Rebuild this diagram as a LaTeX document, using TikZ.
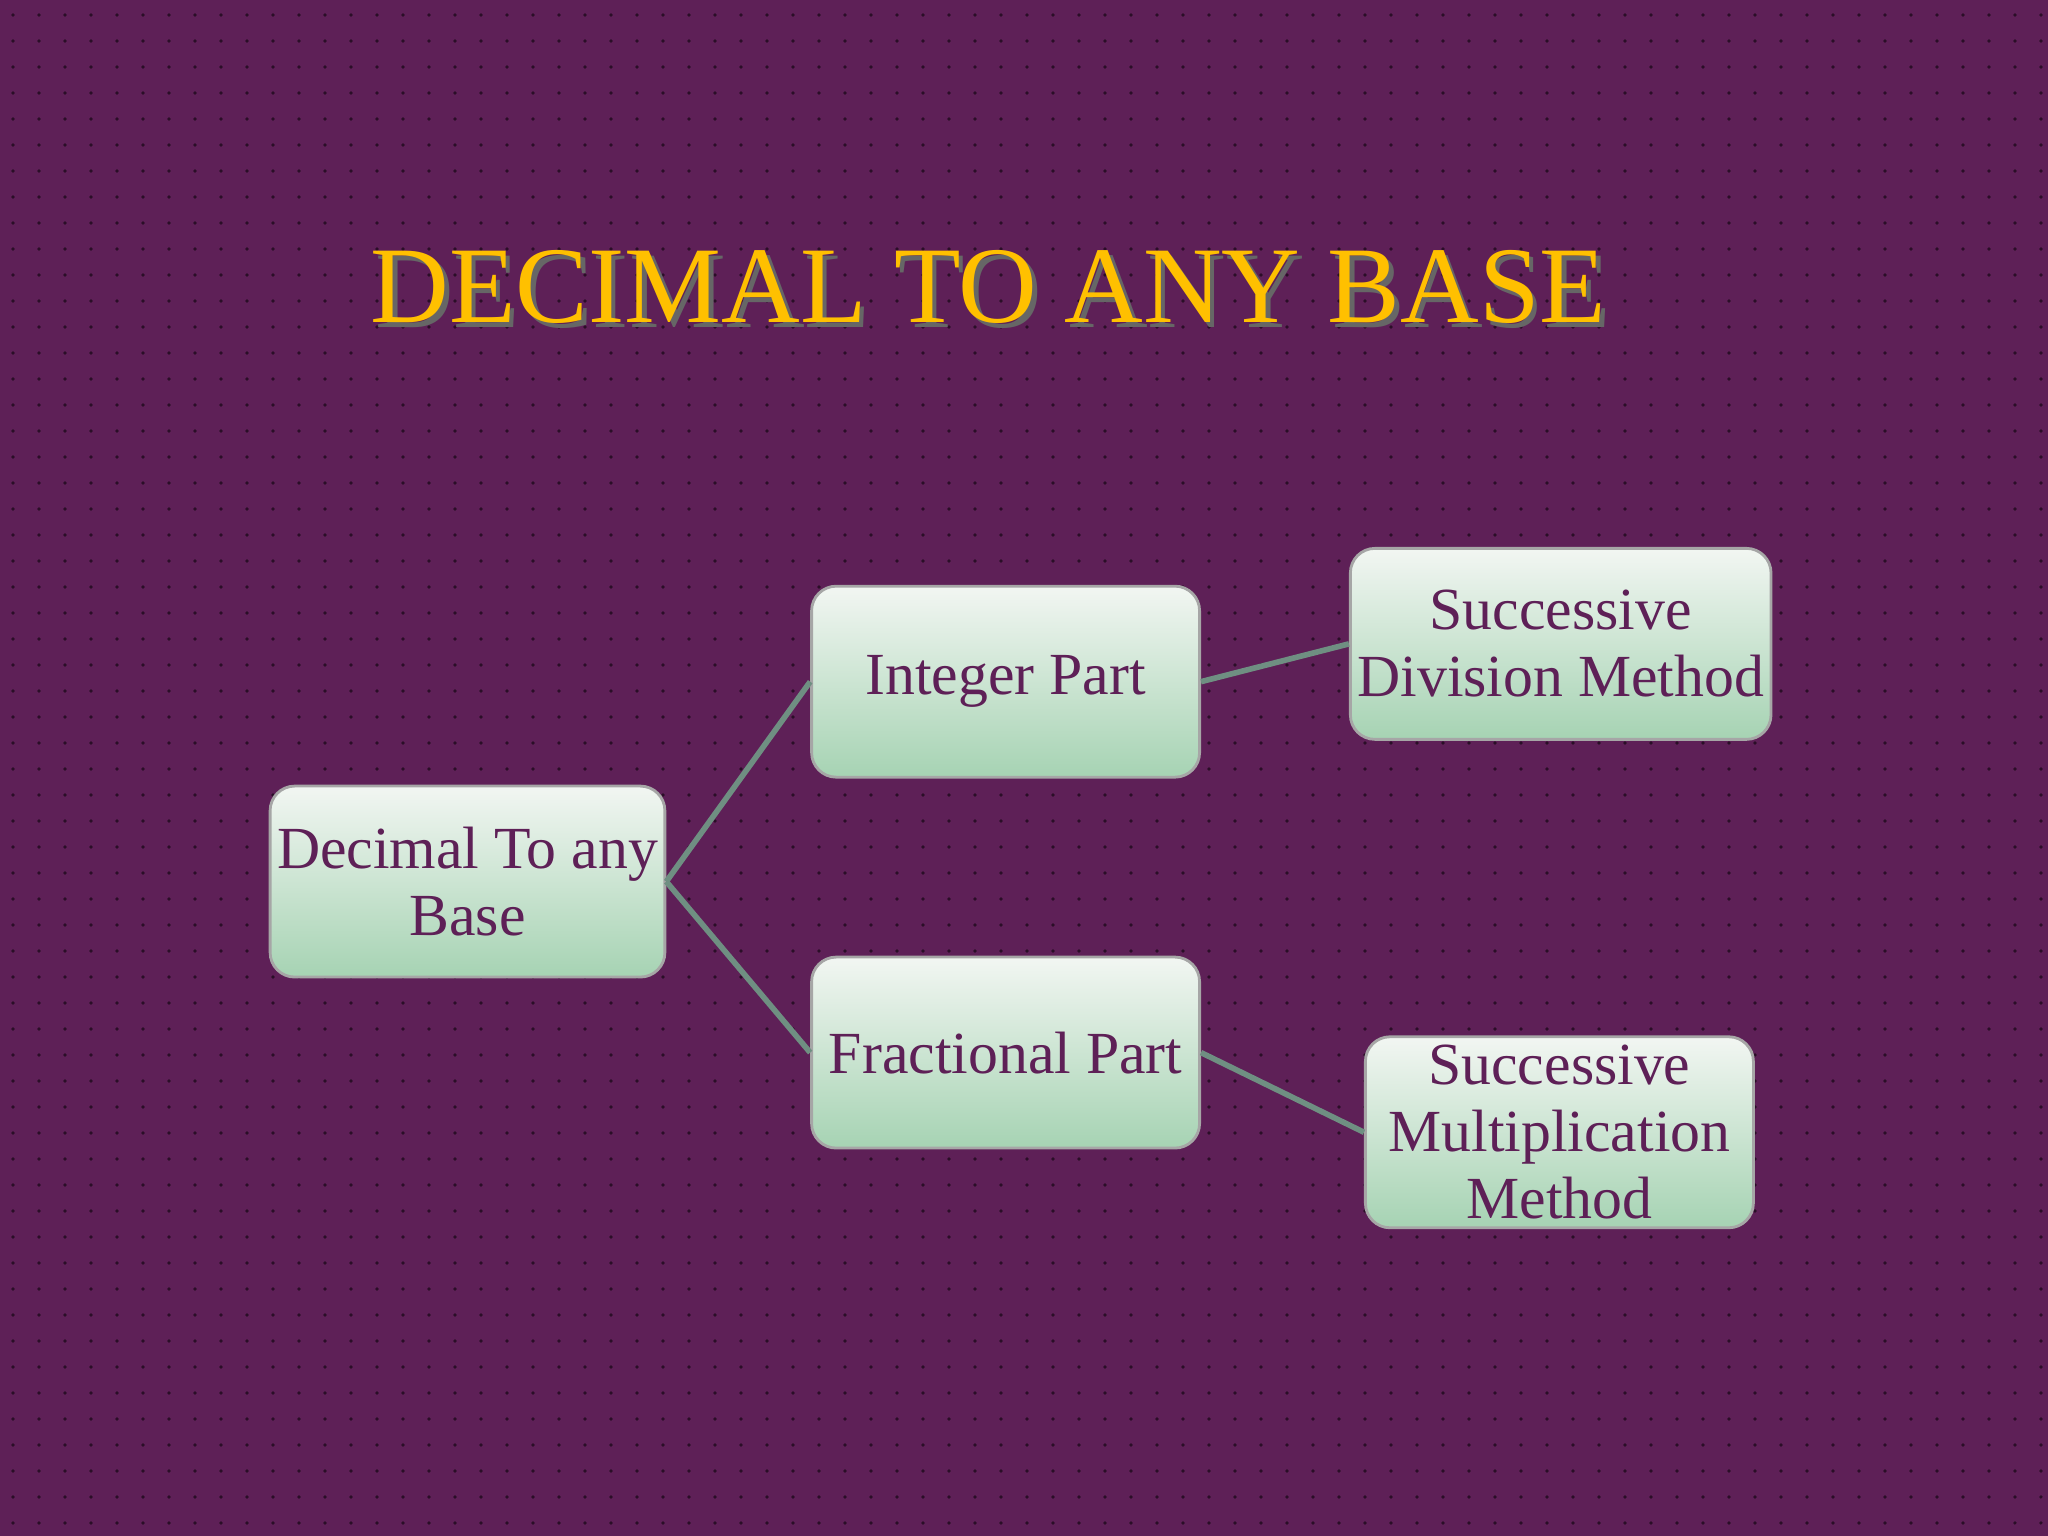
\documentclass[tikz,border=0pt]{standalone}
\usepackage{fontspec}
\setmainfont{Liberation Serif}
\usetikzlibrary{shadows}
\definecolor{bg}{HTML}{5E2057}
\definecolor{txt}{HTML}{5E2057}
\definecolor{gtop}{HTML}{F2F6F2}
\definecolor{gbot}{HTML}{A6D3B3}
\definecolor{edge}{HTML}{6F8F82}
\definecolor{gold}{HTML}{FFC000}
\tikzset{
  box/.style={draw=gray!70, line width=0.8pt, rounded corners=7pt, minimum width=3.88cm, minimum height=1.91cm,
    top color=gtop, bottom color=gbot, align=center, text=txt, font=\fontsize{17}{19}\selectfont, inner sep=2pt},
  conn/.style={draw=edge, line width=1.6pt}
}
\begin{document}
\begin{tikzpicture}
\fill[bg] (0,0) rectangle (20.48,15.36);
\useasboundingbox (0,0) rectangle (20.48,15.36);
\foreach \i in {0,...,78}{\foreach \j in {0,...,58}{
  \fill[black!55!bg] (0.13+\i*0.26,0.13+\j*0.26) circle (0.018);}}
\node[text=black!60, font=\fontsize{31}{34}\selectfont] at (9.93,12.44) {DECIMAL TO ANY BASE};
\node[text=gold, font=\fontsize{31}{34}\selectfont] (title) at (9.886,12.487) {DECIMAL TO ANY BASE};
\node[box] (dec) at (4.675,6.544) {Decimal To any\\Base};
\node[box] (int) at (10.056,8.543) {Integer Part};
\node[box] (frac) at (10.056,4.834) {Fractional Part};
\node[box] (div) at (15.607,8.921) {Successive\\Division Method};
\node[box] (mul) at (15.594,4.037) {Successive\\Multiplication\\Method};
\draw[conn] (dec.east) -- (int.west);
\draw[conn] (dec.east) -- (frac.west);
\draw[conn] (int.east) -- (div.west);
\draw[conn] (frac.east) -- (mul.west);
\end{tikzpicture}
\end{document}
